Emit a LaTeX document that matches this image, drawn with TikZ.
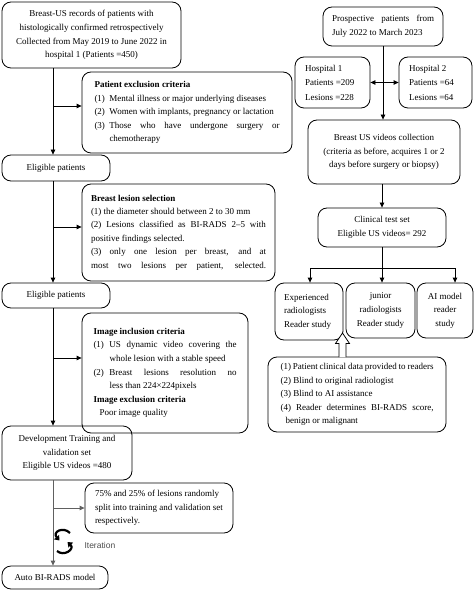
\documentclass[tikz,border=0pt]{standalone}
\usepackage{fontspec}
\setmainfont{Liberation Serif}
\newfontfamily\arialf{Liberation Sans}
\usetikzlibrary{arrows.meta,calc}
\newcommand\itm[3][15pt]{\par\hangindent=#1\hangafter=1\noindent\makebox[#1][l]{#2}#3\par}
\hyphenpenalty=10000 \exhyphenpenalty=10000 \hbadness=10000
\begin{document}
\begin{tikzpicture}[x=1pt,y=-1pt,
  every node/.style={font=\fontsize{9}{13.6}\selectfont},
  bx/.style={draw, line width=0.8pt, rounded corners=9pt, inner sep=0pt, align=center},
  bxp/.style={draw, line width=0.8pt, rounded corners=9pt, inner sep=0pt},
  arr/.style={line width=0.8pt, -{Triangle[length=5pt,width=4.5pt]}},
  ln/.style={line width=0.8pt},
  gln/.style={line width=0.8pt, draw=gray!75!black},
  garr/.style={line width=0.8pt, draw=gray!75!black, -{Triangle[length=5pt,width=4.5pt]}},
  icon/.style={line width=2.2pt, -{Triangle[length=4.5pt,width=6.5pt]}}
]
\useasboundingbox (0,0) rectangle (474,593);

% ---------- left column ----------
\node[bx, minimum width=179pt, minimum height=66pt] (box1) at (91.5,35)
 {Breast-US records of patients with\\histologically confirmed retrospectively\\Collected from May 2019 to June 2022 in\\hospital 1 (Patients =450)};

\node[bxp, minimum width=210pt, minimum height=81pt] (excl) at (187,112.5)
 {\begin{minipage}{185pt}\baselineskip=13.4pt
 \textbf{Patient exclusion criteria}\par
 \itm{(1)}{Mental illness or major underlying diseases}
 \itm{(2)}{Women with implants, pregnancy or lactation}
 \itm{(3)}{Those who have undergone surgery or\linebreak chemotherapy}
 \end{minipage}};

\node[bx, minimum width=108pt, minimum height=26pt] (elig1) at (56,168) {Eligible patients};

\node[bxp, minimum width=193pt, minimum height=97pt] (lesion) at (178.5,232.5)
 {\begin{minipage}{175pt}\baselineskip=13.4pt
 \textbf{Breast lesion selection}\par
 (1) the diameter should between 2 to 30 mm\par
 (2) Lesions classified as BI-RADS 2--5 with\linebreak positive findings selected.\par
 {\parfillskip=0pt (3) only one lesion per breast, and at\linebreak most two lesions per patient, selected.\par}
 \end{minipage}};

\node[bx, minimum width=108pt, minimum height=25pt] (elig2) at (56,295.5) {Eligible patients};

\node[bxp, minimum width=166pt, minimum height=120pt] (incl) at (165,373)
 {\begin{minipage}{143pt}\baselineskip=13.6pt
 \textbf{Image inclusion criteria}\par
 \itm[16pt]{(1)}{US dynamic video covering the\linebreak whole lesion with a stable speed}
 \itm[16pt]{(2)}{Breast lesions resolution no\linebreak less than 224×224pixels}
 \textbf{Image exclusion criteria}\par
 \hspace*{6pt}Poor image quality\par
 \end{minipage}};

\node[bx, minimum width=130pt, minimum height=54pt] (dev) at (67,453)
 {Development Training and\\validation set\\Eligible US videos =480};

\node[bxp, minimum width=148pt, minimum height=50pt] (split) at (159,508)
 {\begin{minipage}{128pt}\baselineskip=13.4pt
 75\% and 25\% of lesions randomly\\split into training and validation set\\respectively.
 \end{minipage}};

\node[bx, minimum width=106pt, minimum height=23pt] (auto) at (55,577.5) {Auto BI-RADS model};

\node[font=\arialf\fontsize{8.5}{10}\selectfont, text=gray!60!black, anchor=west] (iter) at (81,545) {Iteration};

% left connectors
\coordinate (L) at (53,0);
\coordinate (b1) at (53,106);
\coordinate (b2) at (53,227);
\coordinate (b3) at (53,358);
\coordinate (b4) at (53,508);
\draw[arr] (box1.south -| L) -- (elig1.north -| L);
\draw[arr] (b1) -- (b1 -| excl.west);
\draw[arr] (elig1.south -| L) -- (elig2.north -| L);
\draw[arr] (b2) -- (b2 -| lesion.west);
\draw[arr] (elig2.south -| L) -- (dev.north -| L);
\draw[arr] (b3) -- (b3 -| incl.west);
\draw[garr] (dev.south -| L) -- (auto.north -| L);
\draw[garr] (b4) -- (b4 -| split.west);

% iteration icon
\draw[icon] (70,533) .. controls (63,526) and (52,532) .. (59.5,540.5);
\draw[icon] (57,551) .. controls (64,557) and (75,549) .. (67.5,542);

% ---------- right column ----------
\node[bxp, minimum width=120pt, minimum height=39pt] (prosp) at (383,26.5)
 {\begin{minipage}{102pt}\baselineskip=14pt
 Prospective patients from\linebreak July 2022 to March 2023
 \end{minipage}};

\node[bxp, minimum width=75pt, minimum height=51pt] (h1) at (332.5,82.5)
 {\begin{minipage}{55pt}\baselineskip=14.5pt
 Hospital 1\\Patients =209\\Lesions =228
 \end{minipage}};

\node[bxp, minimum width=73pt, minimum height=51pt] (h2) at (435.5,82.5)
 {\begin{minipage}{53pt}\baselineskip=14.5pt
 Hospital 2\\Patients =64\\Lesions =64
 \end{minipage}};

\node[bx, minimum width=152pt, minimum height=64pt] (bus) at (384,152)
 {Breast US videos collection\\(criteria as before, acquires 1 or 2\\days before surgery or biopsy)};

\node[bx, minimum width=128pt, minimum height=39pt] (clin) at (382,227.5)
 {Clinical test set\\Eligible US videos= 292};

\node[bxp, minimum width=68pt, minimum height=57pt] (exp) at (309,311.5)
 {\begin{minipage}{50pt}\baselineskip=13.4pt
 Experienced\\radiologists\\Reader study
 \end{minipage}};

\node[bx, minimum width=69pt, minimum height=55pt] (jun) at (380.5,310.5)
 {junior\\radiologists\\Reader study};

\node[bx, minimum width=56pt, minimum height=55pt] (ai) at (445,310.5)
 {AI model\\reader\\study};

\node[bxp, minimum width=178pt, minimum height=75pt] (rb) at (357,394.5)
 {\begin{minipage}{153pt}\baselineskip=13.4pt
 (1) Patient clinical data provided to readers\par
 (2) Blind to original radiologist\par
 (3) Blind to AI assistance\par
 \hangindent=5pt\hangafter=1 (4) Reader determines BI-RADS score,\linebreak benign or malignant\par
 \end{minipage}};

% right connectors
\draw[arr] (prosp.south) -- (prosp.south |- bus.north);
\draw[ln, {Triangle[length=5pt,width=4.5pt]}-{Triangle[length=5pt,width=4.5pt]}] (h1.east) -- (h2.west);
\draw[arr] (clin.north |- bus.south) -- (clin.north);
\coordinate (ja) at (310,268);
\coordinate (jc) at (455,268);
\draw[ln] (ja) -- (jc);
\draw[ln] (clin.south) -- (clin.south |- ja);
\draw[arr] (clin.south |- ja) -- (clin.south |- jun.north);
\draw[arr] (ja) -- (ja |- exp.north);
\draw[arr] (jc) -- (jc |- ai.north);

% hollow up arrow
\draw[line width=0.8pt, fill=white] (339,357) -- (339,343.5) -- (335.5,343.5) -- (342.5,333) -- (349.5,343.5) -- (346,343.5) -- (346,357);
\end{tikzpicture}
\end{document}
